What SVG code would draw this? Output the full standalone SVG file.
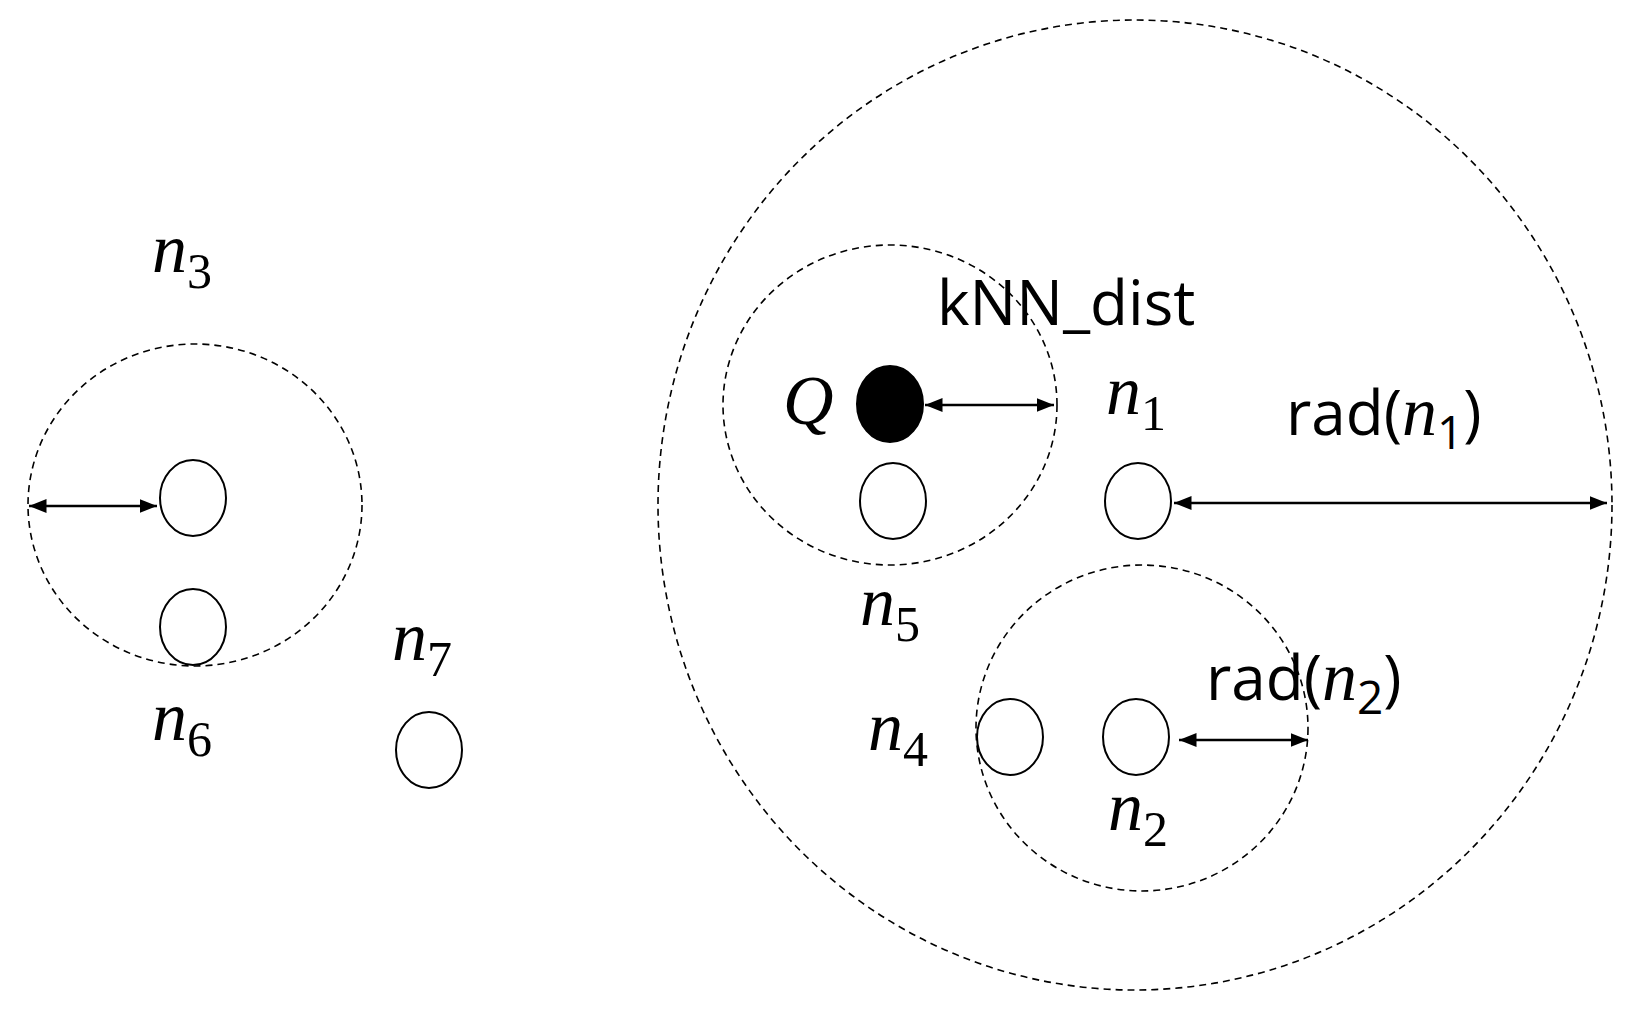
<svg xmlns="http://www.w3.org/2000/svg" width="1636" height="1012" viewBox="0 0 1636 1012">
<style>
.d{fill:none;stroke:#000;stroke-width:1.6;stroke-dasharray:7 5}
.s{fill:#fff;stroke:#000;stroke-width:2}
.m{font-family:"Liberation Serif",serif;font-style:italic;font-size:70px}
.m tspan{font-style:normal;font-size:50px}
.t{font-family:"Open Sans","DejaVu Sans",sans-serif;font-size:62px}
.a{stroke:#000;stroke-width:2.5;marker-start:url(#h);marker-end:url(#h)}
</style>
<defs><marker id="h" viewBox="0 0 10 10" refX="10" refY="5" markerWidth="7" markerHeight="7" orient="auto-start-reverse" markerUnits="strokeWidth"><path d="M0,1L10,5L0,9z" fill="#000"/></marker></defs>
<rect width="1636" height="1012" fill="#fff"/>
<g id="regions">
<ellipse class="d" cx="1135" cy="505" rx="477" ry="485"/>
<ellipse class="d" cx="195" cy="505" rx="167" ry="161"/>
<ellipse class="d" cx="890" cy="405" rx="167" ry="160"/>
<ellipse class="d" cx="1142" cy="728" rx="166" ry="163"/>
</g>
<g id="q"><ellipse cx="890" cy="404" rx="33" ry="38" fill="#000" stroke="#000" stroke-width="2"/></g>
<g id="p1"><ellipse class="s" cx="193" cy="498" rx="33" ry="38"/></g>
<g id="p2"><ellipse class="s" cx="193" cy="627" rx="33" ry="38"/></g>
<g id="p3"><ellipse class="s" cx="429" cy="750" rx="33" ry="38"/></g>
<g id="p4"><ellipse class="s" cx="893" cy="501" rx="33" ry="38"/></g>
<g id="p5"><ellipse class="s" cx="1138" cy="501" rx="33" ry="38"/></g>
<g id="p6"><ellipse class="s" cx="1010" cy="737" rx="33" ry="38"/></g>
<g id="p7"><ellipse class="s" cx="1136" cy="737" rx="33" ry="38"/></g>
<g id="connectors">
<line class="a" x1="29" y1="506" x2="157" y2="506"/>
<line class="a" x1="925" y1="405" x2="1054" y2="405"/>
<line class="a" x1="1174" y1="503" x2="1607" y2="503"/>
<line class="a" x1="1179" y1="740" x2="1308" y2="740"/>
</g>
<g id="labels">
<text class="m" x="152" y="272">n<tspan dy="16">3</tspan></text>
<text class="m" x="152" y="740">n<tspan dy="16">6</tspan></text>
<text class="m" x="392" y="660">n<tspan dy="16">7</tspan></text>
<text class="m" x="860" y="625">n<tspan dy="16">5</tspan></text>
<text class="m" x="868" y="750">n<tspan dy="16">4</tspan></text>
<text class="m" x="1108" y="830">n<tspan dy="16">2</tspan></text>
<text class="m" x="1106" y="414">n<tspan dy="16">1</tspan></text>
<text class="m" x="783" y="424">Q</text>
<text class="t" x="937" y="325">kNN_dist</text>
<text class="t" x="1286" y="435">rad(<tspan font-family="Liberation Serif,serif" font-style="italic" font-size="70">n</tspan><tspan font-size="46" dy="14">1</tspan><tspan dy="-14">)</tspan></text>
<text class="t" x="1206" y="700">rad(<tspan font-family="Liberation Serif,serif" font-style="italic" font-size="70">n</tspan><tspan font-size="46" dy="14">2</tspan><tspan dy="-14">)</tspan></text>
</g>
</svg>
